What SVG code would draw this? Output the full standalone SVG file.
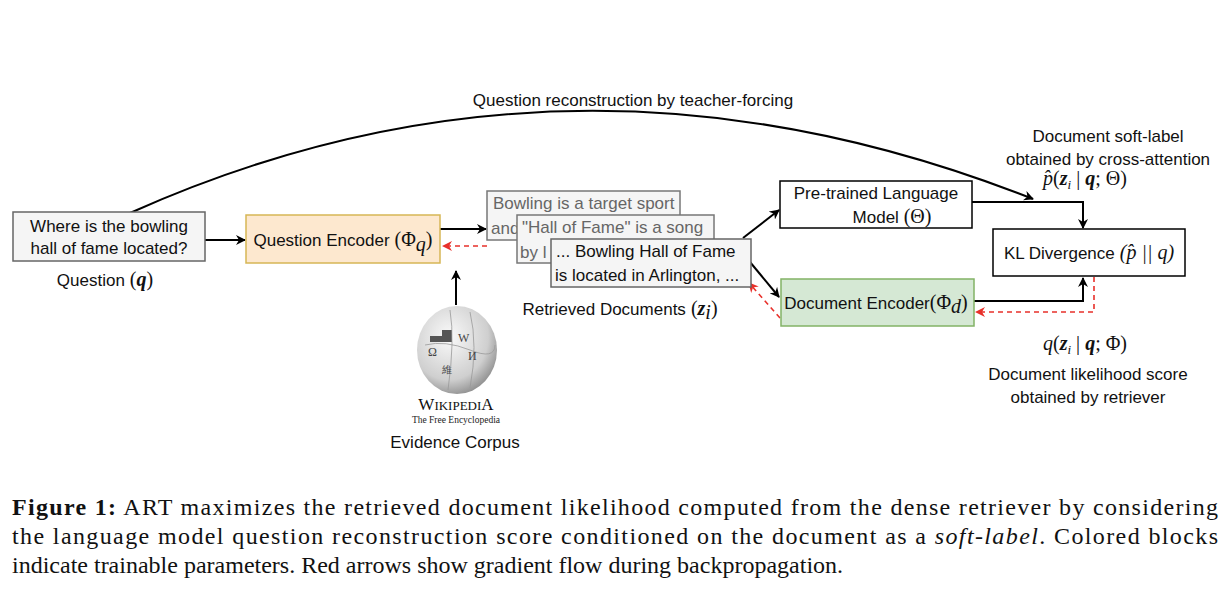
<svg xmlns="http://www.w3.org/2000/svg" width="1230" height="594" viewBox="0 0 1230 594">
<style>
.t{font-family:"Liberation Sans",Arial,sans-serif;font-size:17px;fill:#111}
.g{font-family:"Liberation Sans",Arial,sans-serif;font-size:17px;fill:#666}
.m{font-family:"Liberation Serif","Times New Roman",serif;font-size:20px;fill:#111}
.c{font-family:"Liberation Serif","Times New Roman",serif;font-size:24px;fill:#111}
.e{stroke:#000;stroke-width:2;fill:none}
.r{stroke:#e8302a;stroke-width:1.6;fill:none;stroke-dasharray:5,4}
</style>
<defs>
<marker id="a" markerWidth="10" markerHeight="10" refX="9" refY="5" orient="auto" markerUnits="userSpaceOnUse"><path d="M0,0 L10,5 L0,10 L3,5z" fill="#000"/></marker>
<marker id="ar" markerWidth="10" markerHeight="10" refX="9" refY="5" orient="auto" markerUnits="userSpaceOnUse"><path d="M0,0 L10,5 L0,10 L3,5z" fill="#e8302a"/></marker>
<radialGradient id="gl" cx="0.4" cy="0.35" r="0.7"><stop offset="0" stop-color="#fafafa"/><stop offset="0.7" stop-color="#cfcfcf"/><stop offset="1" stop-color="#8a8a8a"/></radialGradient>
</defs>
<rect width="1230" height="594" fill="#fff"/>
<g id="connectors">
<path class="e" d="M130,213 Q570,16 1033,199" marker-end="url(#a)"/>
<path class="e" d="M205,240 H245" marker-end="url(#a)"/>
<path class="e" d="M440,229 H486" marker-end="url(#a)"/>
<path class="r" d="M487,246 H443" marker-end="url(#ar)"/>
<path class="e" d="M456,305 V271" marker-end="url(#a)"/>
<path class="e" d="M743,238 L779,210" marker-end="url(#a)"/>
<path class="e" d="M745,256 L779,297" marker-end="url(#a)"/>
<path class="r" d="M780,318 L749,283" marker-end="url(#ar)"/>
<path class="e" d="M972,202 H1083 V228" marker-end="url(#a)"/>
<path class="e" d="M974,301 H1083 V278" marker-end="url(#a)"/>
<path class="r" d="M1094,277 V312 H976" marker-end="url(#ar)"/>
</g>
<g id="question">
<rect x="13" y="212" width="192" height="49" fill="#f5f5f5" stroke="#666" stroke-width="1.5"/>
<text class="t" x="109" y="232" text-anchor="middle">Where is the bowling</text>
<text class="t" x="109" y="254" text-anchor="middle">hall of fame located?</text>
<text x="105" y="286" text-anchor="middle"><tspan class="t">Question</tspan><tspan class="m"> (</tspan><tspan class="m" font-weight="bold" font-style="italic">q</tspan><tspan class="m">)</tspan></text>
</g>
<g id="qenc">
<rect x="246" y="215" width="194" height="48" fill="#fde8cf" stroke="#d6b656" stroke-width="1.5"/>
<text x="343" y="246" text-anchor="middle"><tspan class="t">Question Encoder</tspan><tspan class="m"> (Φ</tspan><tspan class="m" font-style="italic" font-size="13" dy="5">q</tspan><tspan class="m" dy="-5">)</tspan></text>
</g>
<g id="docs">
<rect x="487" y="191" width="193" height="49" fill="#f5f5f5" stroke="#777" stroke-width="1.5"/>
<text class="g" x="493" y="209">Bowling is a target sport</text>
<text class="g" x="491" y="234">and</text>
<rect x="517" y="215" width="197" height="48" fill="#f5f5f5" stroke="#777" stroke-width="1.5"/>
<text class="g" x="522" y="233">"Hall of Fame" is a song</text>
<text class="g" x="520" y="258">by l</text>
<rect x="551" y="239" width="200" height="48" fill="#f5f5f5" stroke="#666" stroke-width="1.5"/>
<text class="t" x="556" y="257">... Bowling Hall of Fame</text>
<text class="t" x="555" y="281">is located in Arlington, ...</text>
<text x="620" y="315" text-anchor="middle"><tspan class="t">Retrieved Documents</tspan><tspan class="m"> (</tspan><tspan class="m" font-weight="bold" font-style="italic">z</tspan><tspan class="m" font-style="italic" font-size="13" dy="4">i</tspan><tspan class="m" dy="-4">)</tspan></text>
</g>
<g id="wiki">
<ellipse cx="457" cy="350" rx="40" ry="44" fill="url(#gl)"/>
<path d="M430,336 h12 v-6 h10 v12 h-22z" fill="#555"/>
<g fill="none" stroke="#999" stroke-width="0.8"><path d="M425,345 Q445,340 470,350 T495,345"/><path d="M450,310 Q455,340 448,390"/><path d="M470,312 Q478,345 470,388"/></g>
<g font-family="Liberation Serif,serif" fill="#444" font-size="12"><text x="428" y="356">Ω</text><text x="458" y="342">W</text><text x="468" y="360">И</text><text x="442" y="373" font-size="10">維</text></g>
<text x="456" y="410" text-anchor="middle" font-family="Liberation Serif,serif" font-size="17" fill="#111">W<tspan font-size="13">IKIPEDI</tspan>A</text>
<text x="456" y="423" text-anchor="middle" font-family="Liberation Serif,serif" font-size="9.5" fill="#222">The Free Encyclopedia</text>
<text class="t" x="455" y="448" text-anchor="middle">Evidence Corpus</text>
</g>
<g id="plm">
<rect x="780" y="181" width="192" height="47" fill="#fff" stroke="#000" stroke-width="1.5"/>
<text class="t" x="876" y="199" text-anchor="middle">Pre-trained Language</text>
<text x="892" y="223" text-anchor="middle"><tspan class="t">Model </tspan><tspan class="m">(Θ)</tspan></text>
</g>
<g id="denc">
<rect x="781" y="279" width="193" height="47" fill="#d5e8d4" stroke="#82b366" stroke-width="1.5"/>
<text x="876" y="309" text-anchor="middle"><tspan class="t">Document Encoder</tspan><tspan class="m">(Φ</tspan><tspan class="m" font-style="italic" font-size="13" dy="4">d</tspan><tspan class="m" dy="-4">)</tspan></text>
</g>
<g id="kl">
<rect x="993" y="229" width="192" height="47" fill="#fff" stroke="#000" stroke-width="1.5"/>
<text x="1089" y="259" text-anchor="middle"><tspan class="t">KL Divergence</tspan><tspan class="m" font-style="italic"> (p̂ || q)</tspan></text>
</g>
<g id="labels">
<text class="t" x="633" y="106" text-anchor="middle">Question reconstruction by teacher-forcing</text>
<text class="t" x="1108" y="142" text-anchor="middle">Document soft-label</text>
<text class="t" x="1108" y="165" text-anchor="middle">obtained by cross-attention</text>
<text x="1085" y="185" text-anchor="middle" class="m"><tspan font-style="italic">p̂</tspan>(<tspan font-weight="bold" font-style="italic">z</tspan><tspan font-style="italic" font-size="13" dy="4">i</tspan><tspan dy="-4"> | </tspan><tspan font-weight="bold" font-style="italic">q</tspan>; Θ)</text>
<text x="1085" y="350" text-anchor="middle" class="m"><tspan font-style="italic">q</tspan>(<tspan font-weight="bold" font-style="italic">z</tspan><tspan font-style="italic" font-size="13" dy="4">i</tspan><tspan dy="-4"> | </tspan><tspan font-weight="bold" font-style="italic">q</tspan>; Φ)</text>
<text class="t" x="1088" y="380" text-anchor="middle">Document likelihood score</text>
<text class="t" x="1088" y="403" text-anchor="middle">obtained by retriever</text>
</g>
<g id="caption">
<text class="c" x="12" y="515" textLength="1206" lengthAdjust="spacing"><tspan font-weight="bold">Figure 1:</tspan> ART maximizes the retrieved document likelihood computed from the dense retriever by considering</text>
<text class="c" x="12" y="544" textLength="1206" lengthAdjust="spacing">the language model question reconstruction score conditioned on the document as a <tspan font-style="italic">soft-label</tspan>.  Colored blocks</text>
<text class="c" x="12" y="573">indicate trainable parameters. Red arrows show gradient flow during backpropagation.</text>
</g>
</svg>
